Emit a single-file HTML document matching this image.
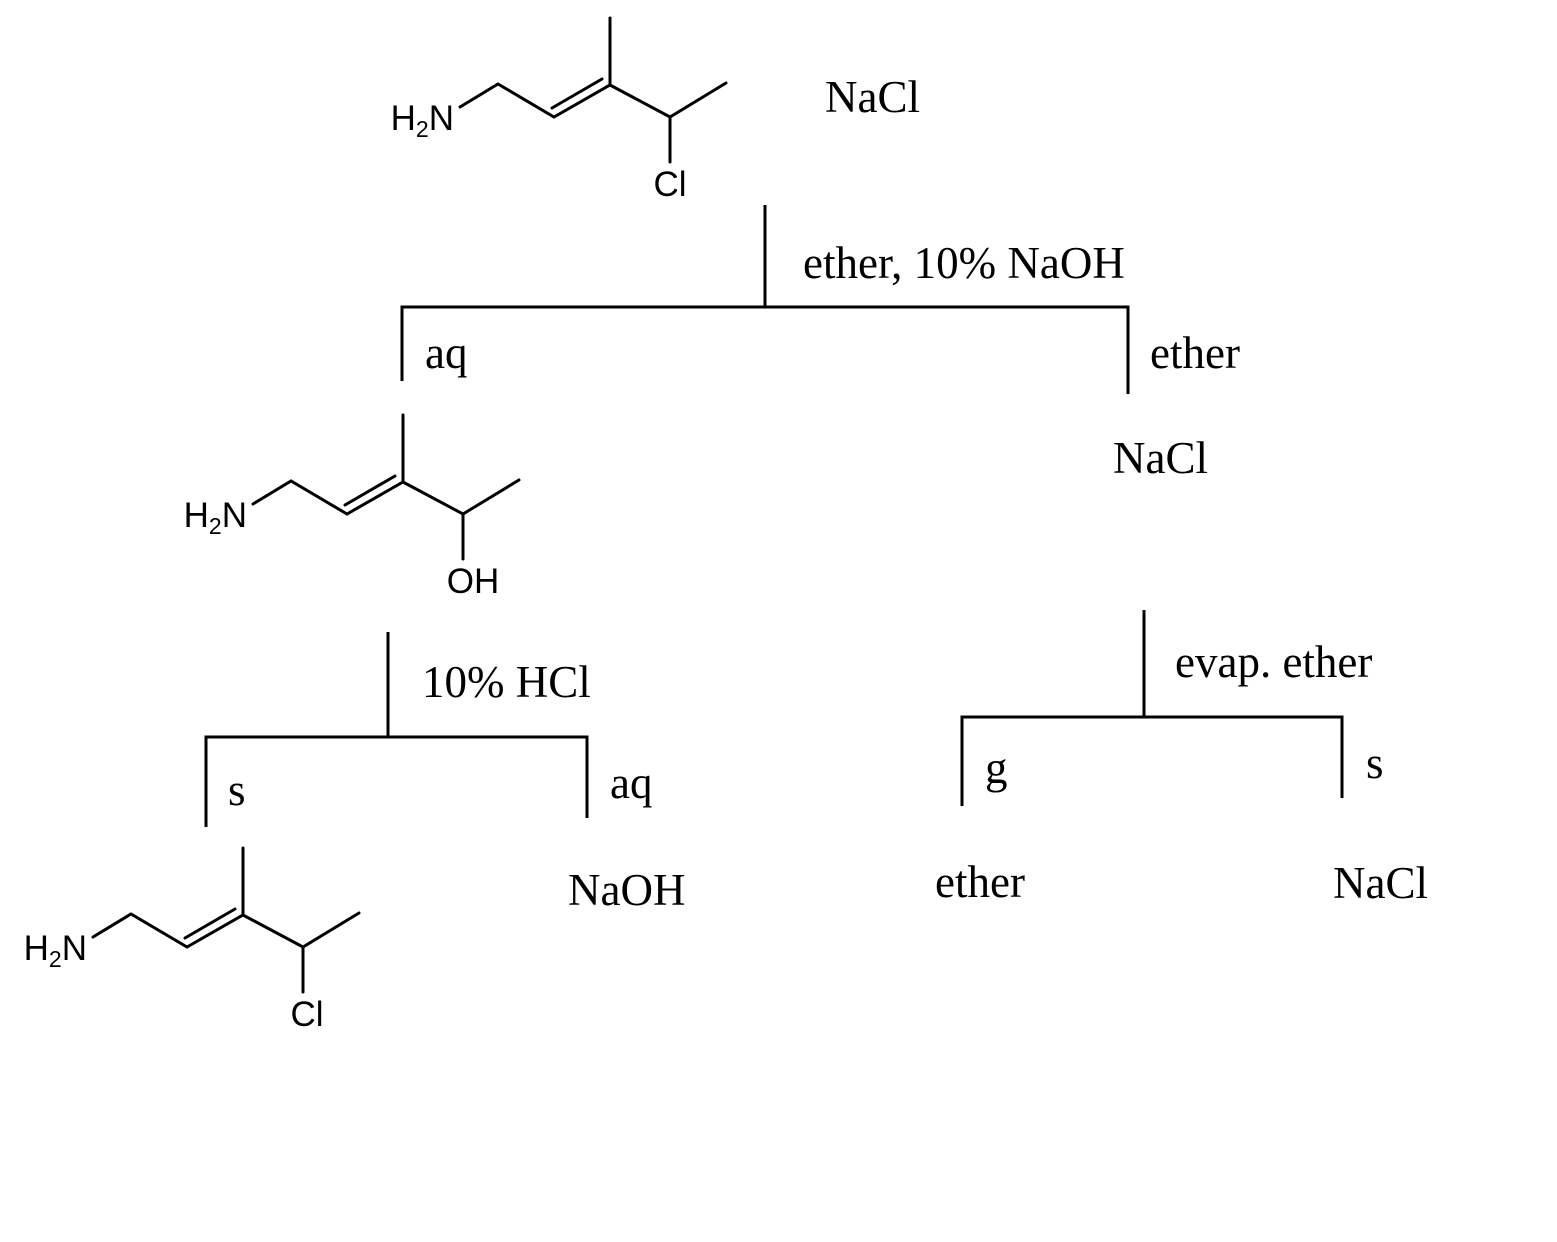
<!DOCTYPE html>
<html><head><meta charset="utf-8"><style>
html,body{margin:0;padding:0;background:#fff;}
svg{display:block;}
.t{font-family:"Liberation Serif",serif;font-size:45px;fill:#000;}
.c{font-family:"Liberation Sans",sans-serif;font-size:35px;fill:#000;}
</style></head><body>
<svg width="1557" height="1242" viewBox="0 0 1557 1242" xmlns="http://www.w3.org/2000/svg">
<defs>
<g id="core" stroke="#000" stroke-width="3" fill="none" stroke-linecap="round">
<polyline points="460,107 498,84 554,117 610,85 670,117 726,83"/>
<line x1="610" y1="85" x2="610" y2="18"/>
<line x1="552" y1="108" x2="602" y2="79"/>
<line x1="670" y1="117" x2="670" y2="162"/>
</g>
</defs>
<use href="#core"/>
<text class="c" x="454" y="130" text-anchor="end">H<tspan font-size="23" dy="7">2</tspan><tspan dy="-7">N</tspan></text>
<text class="c" x="670" y="196" text-anchor="middle">Cl</text>
<g transform="translate(-207,397)"><use href="#core"/>
<text class="c" x="454" y="130" text-anchor="end">H<tspan font-size="23" dy="7">2</tspan><tspan dy="-7">N</tspan></text>
<text class="c" x="680" y="196" text-anchor="middle">OH</text></g>
<g transform="translate(-367,830)"><use href="#core"/>
<text class="c" x="454" y="130" text-anchor="end">H<tspan font-size="23" dy="7">2</tspan><tspan dy="-7">N</tspan></text>
<text class="c" x="674" y="196" text-anchor="middle">Cl</text></g>

<g stroke="#000" stroke-width="3" fill="none">
<line x1="765" y1="205" x2="765" y2="307"/>
<polyline points="402,381 402,307 1128,307 1128,394"/>
<line x1="388" y1="632" x2="388" y2="737"/>
<polyline points="206,827 206,737 587,737 587,818"/>
<line x1="1144" y1="610" x2="1144" y2="717"/>
<polyline points="962,806 962,717 1342,717 1342,798"/>
</g>

<text class="t" x="825" y="112">NaCl</text>
<text class="t" x="803" y="278">ether, 10% NaOH</text>
<text class="t" x="425" y="368">aq</text>
<text class="t" x="1150" y="368">ether</text>
<text class="t" x="1113" y="473">NaCl</text>
<text class="t" x="422" y="697">10% HCl</text>
<text class="t" x="228" y="805">s</text>
<text class="t" x="610" y="798">aq</text>
<text class="t" x="568" y="905">NaOH</text>
<text class="t" x="1175" y="677">evap. ether</text>
<text class="t" x="985" y="783">g</text>
<text class="t" x="1366" y="778">s</text>
<text class="t" x="935" y="897">ether</text>
<text class="t" x="1333" y="898">NaCl</text>
</svg>
</body></html>
